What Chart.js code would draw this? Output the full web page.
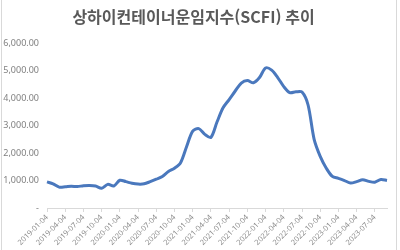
<!doctype html>
<html lang="ko">
  <head>
    <meta charset="utf-8">
    <title>SCFI</title>
    <style>
      * { margin: 0; padding: 0; }
      body { background: #fff; }
      .chartBox { width: 400px; height: 250px; }
    </style>
  </head>
  <body>
    <div class="chartBox">
      <canvas id="myChart"></canvas>
    </div>
    <script src="https://cdn.jsdelivr.net/npm/chart.js/dist/chart.umd.min.js"></script>
    <script>
      // monthly points, 2019-01 .. 2023-09
      const months = [
        '2019-01-04','2019-02-04','2019-03-04','2019-04-04','2019-05-04','2019-06-04',
        '2019-07-04','2019-08-04','2019-09-04','2019-10-04','2019-11-04','2019-12-04',
        '2020-01-04','2020-02-04','2020-03-04','2020-04-04','2020-05-04','2020-06-04',
        '2020-07-04','2020-08-04','2020-09-04','2020-10-04','2020-11-04','2020-12-04',
        '2021-01-04','2021-02-04','2021-03-04','2021-04-04','2021-05-04','2021-06-04',
        '2021-07-04','2021-08-04','2021-09-04','2021-10-04','2021-11-04','2021-12-04',
        '2022-01-04','2022-02-04','2022-03-04','2022-04-04','2022-05-04','2022-06-04',
        '2022-07-04','2022-08-04','2022-09-04','2022-10-04','2022-11-04','2022-12-04',
        '2023-01-04','2023-02-04','2023-03-04','2023-04-04','2023-05-04','2023-06-04',
        '2023-07-04','2023-08-04','2023-09-04'
      ];
      const scfi = [
        950, 880, 760, 770, 790, 780,
        810, 820, 800, 720, 860, 800,
        1010, 960, 900, 870, 880, 960,
        1050, 1150, 1330, 1450, 1650, 2240,
        2800, 2890, 2680, 2570, 3130, 3650,
        3950, 4260, 4550, 4640, 4560, 4750,
        5100, 5020, 4750, 4420, 4200, 4230,
        4220, 3750, 2500, 1880, 1450, 1150,
        1080, 1000, 910, 960, 1030, 970,
        940, 1040, 1000
      ];
      const yTicks = [0, 1000, 2000, 3000, 4000, 5000, 6000];

      const frame = {
        id: 'frame',
        beforeDraw(chart) {
          const { ctx, height } = chart;
          ctx.save();
          ctx.strokeStyle = '#d9d9d9';
          ctx.lineWidth = 1;
          ctx.beginPath();
          ctx.moveTo(1.5, 0); ctx.lineTo(1.5, height);
          ctx.moveTo(396.5, 0); ctx.lineTo(396.5, height);
          ctx.stroke();
          ctx.restore();
        }
      };

      const config = {
        type: 'line',
        data: {
          labels: months,
          datasets: [{
            data: scfi,
            borderColor: '#4a78bd',
            borderWidth: 3,
            pointRadius: 0,
            tension: 0.3,
            fill: false
          }]
        },
        options: {
          responsive: false,
          animation: false,
          layout: { padding: { left: 0, right: 13, top: 0, bottom: 0 } },
          plugins: {
            legend: { display: false },
            tooltip: { enabled: false },
            title: {
              display: true,
              text: '상하이컨테이너운임지수(SCFI) 추이',
              color: '#595959',
              font: { family: '"Noto Sans CJK KR", "Noto Sans", sans-serif', size: 16, weight: 'bold' },
              padding: { top: 7, bottom: 17 }
            }
          },
          scales: {
            x: {
              grid: { drawOnChartArea: false, color: '#d9d9d9', tickLength: 4 },
              border: { color: '#d9d9d9' },
              afterBuildTicks(scale) {
                scale.ticks = scale.ticks.filter(t => t.value % 3 === 0);
              },
              afterFit(scale) { scale.height = 42; },
              ticks: {
                autoSkip: false,
                maxRotation: 45,
                minRotation: 45,
                padding: 1,
                color: '#8c8c8c',
                font: { family: '"Noto Sans", sans-serif', size: 7.5 },
                callback(value) { return this.getLabelForValue(value); }
              }
            },
            y: {
              min: 0,
              max: 6000,
              afterBuildTicks(scale) {
                scale.ticks = yTicks.map(v => ({ value: v }));
              },
              afterFit(scale) { scale.width = 47; },
              grid: { display: false, drawTicks: false },
              border: { display: false },
              ticks: {
                color: '#7f7f7f',
                padding: 8,
                font: { family: '"Noto Sans", sans-serif', size: 9 },
                callback(v) {
                  if (v === 0) return '-';
                  return v.toLocaleString('en-US', { minimumFractionDigits: 2, maximumFractionDigits: 2 });
                }
              }
            }
          }
        },
        plugins: [frame]
      };

      const canvas = document.getElementById('myChart');
      canvas.width = 400;
      canvas.height = 250;
      new Chart(canvas, config);
    </script>
  </body>
</html>
